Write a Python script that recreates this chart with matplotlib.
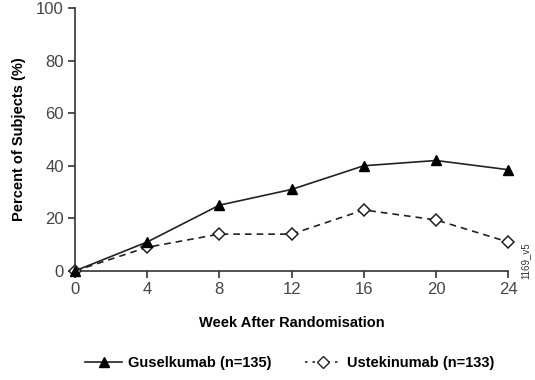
import matplotlib.pyplot as plt
from matplotlib.lines import Line2D

weeks = [0, 4, 8, 12, 16, 20, 24]
guselkumab = [0, 11, 25, 31, 40, 42, 38.5]
ustekinumab = [0, 9, 14, 14, 23.2, 19.4, 11]
x_ticks = [0, 4, 8, 12, 16, 20, 24]
y_ticks = [0, 20, 40, 60, 80, 100]

plt.rcParams['font.family'] = ['Liberation Sans', 'DejaVu Sans']

fig = plt.figure(figsize=(5.35, 3.8), dpi=100)
ax = fig.add_axes([0.140, 0.287, 0.810, 0.692])

ax.plot(weeks, ustekinumab, color='#222222', linestyle=(0, (4, 3)), linewidth=1.2,
        marker='D', markersize=6.5, markerfacecolor='white', markeredgecolor='#222222',
        markeredgewidth=1.1, zorder=3, clip_on=False)
ax.plot(weeks, guselkumab, color='#222222', linestyle='-', linewidth=1.2,
        marker='^', markersize=7, markerfacecolor='black', markeredgecolor='black',
        zorder=4, clip_on=False)

ax.set_xlim(0, 24)
ax.set_ylim(0, 100)
ax.set_xticks(x_ticks)
ax.set_yticks(y_ticks)
ax.spines['top'].set_visible(False)
ax.spines['right'].set_visible(False)
for s in ['left', 'bottom']:
    ax.spines[s].set_color('#333333')
    ax.spines[s].set_linewidth(1.2)
ax.tick_params(direction='out', length=5, width=1.2, colors='#333333',
               labelsize=12, labelcolor='#444444', pad=3)

ax.set_xlabel('Week After Randomisation', fontsize=10.5, fontweight='bold', labelpad=14)
ax.set_ylabel('Percent of Subjects (%)', fontsize=10.5, fontweight='bold', labelpad=7)

fig.text(0.982, 0.313, '1169_v5', rotation=90, fontsize=7, ha='center', va='center',
         color='#333333')

handles = [
    Line2D([], [], color='#222222', linestyle='-', linewidth=1.2, marker='^',
           markersize=7, markerfacecolor='black', markeredgecolor='black'),
    Line2D([], [], color='#222222', linestyle=(0, (1.5, 3)), linewidth=1.2, marker='D',
           markersize=6, markerfacecolor='white', markeredgecolor='#222222'),
]
fig.legend(handles, ['Guselkumab (n=135)', 'Ustekinumab (n=133)'], loc='center',
           bbox_to_anchor=(0.542, 0.045), ncol=2, frameon=False,
           prop={'weight': 'bold', 'size': 10.5}, handlelength=2.5,
           handletextpad=0.4, columnspacing=2.3)

fig.savefig('out.png', dpi=100)
